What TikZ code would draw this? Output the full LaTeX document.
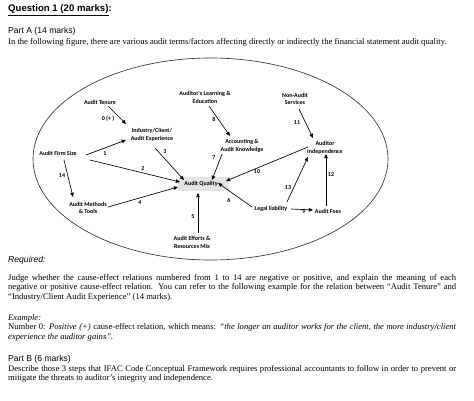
\documentclass[tikz,border=0pt]{standalone}
\usepackage{fontspec}
\setmainfont{Liberation Serif}
\setsansfont{Liberation Sans}
\newfontfamily\diafont{Carlito}
\usetikzlibrary{arrows.meta,calc}
\begin{document}
\begin{tikzpicture}[x=1pt,y=-1pt,
  lbl/.style={font=\diafont\bfseries\fontsize{6}{7.8}\selectfont, align=center, inner sep=0pt},
  num/.style={font=\diafont\bfseries\fontsize{6}{7}\selectfont, inner sep=0pt},
  arr/.style={-{Triangle[length=4.2pt,width=3.6pt]}, line width=0.65pt, black},
  txt/.style={anchor=base west, inner sep=0pt, font=\fontsize{8.6}{9.7}\selectfont},
  head/.style={anchor=base west, inner sep=0pt, font=\sffamily\fontsize{8.6}{10}\selectfont},
]
\fill[white] (0,0) rectangle (474,401);
\useasboundingbox (0,0) rectangle (474,401);

% header
\node[anchor=base west, inner sep=0pt, font=\sffamily\bfseries\fontsize{9.6}{11}\selectfont] (q1) at (8,11.5) {\underline{Question 1 (20 marks)}:};
\node[head] (pa) at (8,34) {Part A (14 marks)};
\node[txt] (intro) at (8,45) {In the following figure, there are various audit terms/factors affecting directly or indirectly the financial statement audit quality.};

% ellipse
\draw[line width=0.65pt, black!80] (210.5,159) ellipse [x radius=177.5, y radius=101];

% nodes
\node[lbl] (ten) at (100,102) {Audit Tenure};
\node[lbl] (ind) at (152,135) {Industry/Client/\\Audit Experience};
\node[lbl] (lrn) at (205,97.5) {Auditor's Learning \&\\Education};
\node[lbl] (acc) at (242,145.5) {Accounting \&\\Audit Knowledge};
\node[lbl] (nas) at (295,99) {Non-Audit\\Services};
\node[lbl] (ai) at (325,147.5) {Auditor\\Independence};
\node[lbl] (fs) at (58,153) {Audit Firm Size};
\node[lbl] (amt) at (88,208) {Audit Methods\\\& Tools};
\node[lbl, fill=black!11, minimum width=51pt, minimum height=14pt] (aq) at (203.5,184) {\hspace*{-5pt}Audit Quality};
\node[lbl] (eff) at (192,242.5) {Audit Efforts \&\\Resources Mix};
\node[lbl] (leg) at (271,209) {Legal liability};
\node[lbl] (fee) at (328,211) {Audit Fees};

% arrows
\draw[arr] ($(ten)+(8,4)$) -- ($(ind)+(-26,-11)$);
\draw[arr] ($(fs)+(28,2)$) -- ($(ind)+(-26,5)$);
\draw[arr] ($(fs)+(32,7)$) -- ($(aq)+(-23.5,-2)$);
\draw[arr] ($(ind)+(3,13)$) -- ($(aq)+(-19.5,-4)$);
\draw[arr] ($(amt)+(20,-1)$) -- ($(aq)+(-25.5,3)$);
\draw[arr] ($(eff)+(6,-9.5)$) -- ($(aq)+(-5.5,9)$);
\draw[arr] ($(leg)+(-19,-2)$) -- ($(aq)+(14.5,-1)$);
\draw[arr] ($(acc)+(-20,8.5)$) -- ($(aq)+(8.5,-4)$);
\draw[arr] ($(lrn)+(4,8.5)$) -- ($(acc)+(-12,-9.5)$);
\draw[arr] ($(leg)+(20,0)$) -- ($(fee)+(-15,-1)$);
\draw[arr] ($(ai)+(-17,-0.5)$) -- ($(aq)+(22.5,-3)$);
\draw[arr] ($(nas)+(4,10)$) -- ($(ai)+(-12,-9.5)$);
\draw[arr] ($(fee)+(-2,-5)$) -- ($(ai)+(1,6.5)$);
\draw[arr] ($(leg)+(16,-7)$) -- ($(ai)+(-17,9.5)$);
\draw[arr] ($(fs)+(6,7)$) -- ($(amt)+(-15,-11)$);

% numbers
\node[num] (l0) at (108,119) {0 (+ )};
\node[num] (l1) at (105,154) {1};
\node[num] (l2) at (143,169) {2};
\node[num] (l3) at (165,152) {3};
\node[num] (l4) at (140,203) {4};
\node[num] (l5) at (193,217) {5};
\node[num] (l6) at (229,200) {6};
\node[num] (l7) at (214,158) {7};
\node[num] (l8) at (214,119) {8};
\node[num] (l9) at (304,212) {9};
\node[num] (l10) at (257,172) {10};
\node[num] (l11) at (297,123) {11};
\node[num] (l12) at (331,175) {12};
\node[num] (l13) at (288,188) {13};
\node[num] (l14) at (62,176) {14};

% text below
\node[anchor=base west, inner sep=0pt, font=\sffamily\itshape\fontsize{8.6}{10}\selectfont] (req) at (8,262) {Required:};
\node[txt] (p1) at (8,280) {\makebox[448pt][s]{Judge whether the cause-effect relations numbered from 1 to 14 are negative or positive, and explain the meaning of each}};
\node[txt] (p2) at (8,289.7) {\makebox[448pt][s]{negative or positive cause-effect relation. You can refer to the following example for the relation between “Audit Tenure” and}};
\node[txt] (p3) at (8,299.4) {“Industry/Client Audit Experience” (14 marks).};
\node[txt] (ex) at (8,320) {\textit{Example:}};
\node[txt] (n1) at (8,329.7) {\makebox[448pt][s]{Number 0: \textit{Positive (+)} cause-effect relation, which means: \textit{“the longer an auditor works for the client, the more industry/client}}};
\node[txt] (n2) at (8,339.4) {\textit{experience the auditor gains”.}};
\node[head] (pb) at (8,361) {Part B (6 marks)};
\node[txt] (d1) at (8,371) {\makebox[448pt][s]{Describe those 3 steps that IFAC Code Conceptual Framework requires professional accountants to follow in order to prevent or}};
\node[txt] (d2) at (8,380.7) {mitigate the threats to auditor’s integrity and independence.};
\end{tikzpicture}
\end{document}
